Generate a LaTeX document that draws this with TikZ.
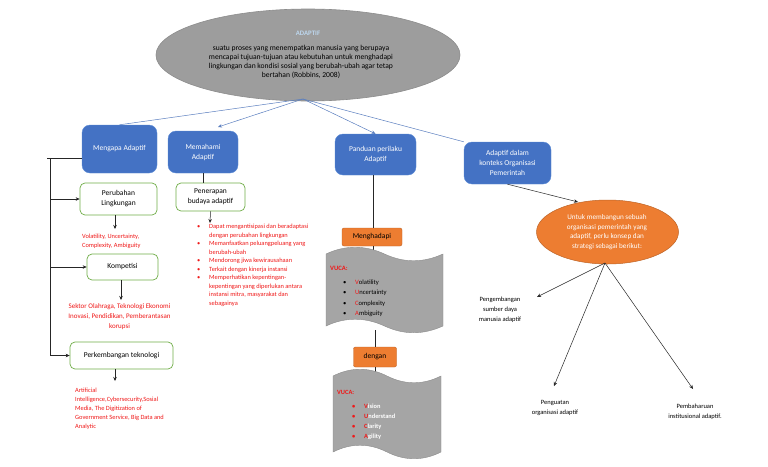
\documentclass[tikz,border=0pt]{standalone}
\usepackage{fontspec}
\setmainfont{Carlito}
\usetikzlibrary{arrows.meta,shapes.geometric}
\definecolor{bluebox}{HTML}{4472C4}
\definecolor{blueedge}{HTML}{5B8BD6}
\definecolor{greenedge}{HTML}{70AD47}
\definecolor{orangebox}{HTML}{ED7D31}
\definecolor{graybox}{HTML}{A5A5A5}
\definecolor{grayedge}{HTML}{8C8C8C}
\definecolor{redtext}{HTML}{F01818}
\definecolor{bluelink}{HTML}{5B7FC0}
\definecolor{lightblue}{HTML}{BDD7EE}
\newcommand{\bul}{\makebox[12pt][l]{\textbullet}}
\newcommand{\ind}{\hspace*{12pt}}
\begin{document}
\begin{tikzpicture}[x=1pt,y=-1pt,
  bluenode/.style={draw=blueedge,fill=bluebox,rounded corners=8pt,text=white,align=center,font=\fontsize{7.5}{10}\selectfont,inner sep=1pt},
  greennode/.style={draw=greenedge,fill=white,rounded corners=5pt,align=center,font=\fontsize{7.5}{10}\selectfont,inner sep=1pt,line width=0.7pt},
  orangenode/.style={draw=orangebox!80!black,fill=orangebox,rounded corners=2pt,align=center,font=\fontsize{7.5}{9}\selectfont,inner sep=1pt},
  redlbl/.style={text=redtext,font=\fontsize{6.4}{9}\selectfont,inner sep=0pt},
  blklbl/.style={text=black,font=\fontsize{6.5}{10}\selectfont,inner sep=0pt,align=center},
  bluelinkline/.style={draw=bluelink,line width=0.5pt},
  arr/.style={-{Stealth[length=4pt,width=3.5pt]}},
  blkline/.style={draw=black!85,line width=0.5pt},
  wave/.style={fill=graybox,draw=graybox!85!black,line width=0.4pt}
]
\useasboundingbox[fill=white] (0,0) rectangle (768,466);

% top ellipse
\node[ellipse,fill=graybox!95!black,draw=grayedge,line width=0.6pt,minimum width=304pt,minimum height=92pt,inner sep=0pt] (top) at (308,55) {};
\node[text=lightblue,font=\fontsize{6.8}{8}\selectfont\bfseries,inner sep=0pt] (toptitle) at (308,33) {ADAPTIF};
\node[font=\fontsize{7.6}{9}\selectfont,align=center,inner sep=0pt] (toptext) at (301,62) {suatu proses yang menempatkan manusia yang berupaya\\mencapai tujuan-tujuan atau kebutuhan untuk menghadapi\\lingkungan dan kondisi sosial yang berubah-ubah agar tetap\\bertahan (Robbins, 2008)};

% blue boxes
\node[bluenode,minimum width=75pt,minimum height=48pt] (meng) at (119.5,149) {Mengapa Adaptif};
\node[bluenode,minimum width=70pt,minimum height=42pt] (mem) at (203,152) {Memahami\\Adaptif};
\node[bluenode,minimum width=81pt,minimum height=41pt] (pan) at (375.5,154.5) {Panduan perilaku\\Adaptif};
\node[bluenode,minimum width=87pt,minimum height=42pt] (kon) at (507.5,163) {Adaptif dalam\\konteks Organisasi\\Pemerintah};

% links from top ellipse
\coordinate (topbase) at (303,99);
\draw[bluelinkline] (topbase) -- (meng.north);
\draw[bluelinkline,arr] (topbase) -- (218,127) coordinate (memend);
\draw[bluelinkline,arr] (topbase) -- (pan.north);
\draw[bluelinkline] (topbase) -- (kon.north west);

% green boxes
\node[greennode,minimum width=77pt,minimum height=32pt] (perub) at (118.5,199) {Perubahan\\Lingkungan};
\node[greennode,minimum width=69pt,minimum height=28pt] (pener) at (210.5,197) {Penerapan\\budaya adaptif};
\node[greennode,minimum width=71pt,minimum height=26pt] (komp) at (122.5,267) {Kompetisi};
\node[greennode,minimum width=103pt,minimum height=27pt] (perk) at (121.5,355.5) {Perkembangan teknologi};

% bracket on the left
\coordinate (brk) at (50,158);
\draw[blkline] (meng.west |- brk) -- (47,158);
\draw[blkline] (brk) -- (50,356) coordinate (brkend);
\draw[blkline,arr] (brk |- perub.west) -- (perub.west);
\draw[blkline,arr] (brk |- komp.west) -- (komp.west);
\draw[blkline,arr] (brk |- perk.west) -- (perk.west);

% red texts on the left
\node[redlbl,anchor=north west,align=left] (vuca0) at (82,234) {Volatility, Uncertainty,\\Complexity, Ambiguity};
\draw[blkline,arr] (perub.south -| 115,0) -- (115,229) coordinate (a1);
\node[redlbl,anchor=north,align=center,font=\fontsize{7}{10}\selectfont] (sektor) at (119.5,303) {Sektor Olahraga, Teknologi Ekonomi\\Inovasi, Pendidikan, Pemberantasan\\korupsi};
\draw[blkline,arr] (komp.south -| 121,0) -- (121,300) coordinate (a2);
\node[redlbl,anchor=north west,align=left] (ai) at (75,388) {Artificial\\Intelligence,Cybersecurity,Sosial\\Media, The Digitization of\\Government Service, Big Data and\\Analytic};
\draw[blkline,arr] (perk.south -| 115,0) -- (115,381) coordinate (a3);

% Memahami branch
\draw[blkline] (mem.south) -- (mem.south |- pener.north);
\draw[blkline,arr] (pener.south) -- (210,223) coordinate (a4);
\node[redlbl,anchor=north west,align=left,font=\fontsize{6.4}{8.5}\selectfont] (bullets) at (197,224) {\bul Dapat mengantisipasi dan beradaptasi\\\ind dengan perubahan lingkungan\\\bul Memanfaatkan peluangpeluang yang\\\ind berubah-ubah\\\bul Mendorong jiwa kewirausahaan\\\bul Terkait dengan kinerja instansi\\\bul Memperhatikan kepentingan-\\\ind kepentingan yang diperlukan antara\\\ind instansi mitra, masyarakat dan\\\ind sebagainya};

% Panduan branch
\node[orangenode,minimum width=60pt,minimum height=18pt] (hadap) at (372,237) {Menghadapi};
\coordinate (w1top) at (373,262);
\coordinate (w1bot) at (375,330);
\coordinate (w2top) at (375,380);
\draw[blkline] (pan.south -| 373,0) -- (hadap.north -| 373,0);
\draw[blkline] (hadap.south -| 373,0) -- (w1top);

% wave 1
\path[wave] (326,254) .. controls (345,245) and (365,245) .. (384.5,254) .. controls (404,263) and (423,263) .. (443,254)
  -- (443,326) .. controls (423,335) and (404,335) .. (384.5,326) .. controls (365,317) and (345,317) .. (326,326) -- cycle;
\node[text=redtext,font=\fontsize{6.6}{8}\selectfont\bfseries,anchor=west,inner sep=0pt] (vuca1) at (330,268) {VUCA:};
\node[anchor=north west,align=left,inner sep=0pt,font=\fontsize{6.6}{10.2}\selectfont] (vlist1) at (343,280) {\bul\textcolor{redtext}{V}olatility\\\bul\textcolor{redtext}{U}ncertainty\\\bul\textcolor{redtext}{C}omplexity\\\bul\textcolor{redtext}{A}mbiguity};

\node[orangenode,minimum width=43pt,minimum height=20pt] (dengan) at (375,357) {dengan};
\draw[blkline] (w1bot) -- (dengan.north);
\draw[blkline] (dengan.south) -- (w2top);

% wave 2
\path[wave] (333,376) .. controls (351,367) and (369,367) .. (387,376) .. controls (405,385) and (423,385) .. (441,376)
  -- (441,452) .. controls (423,461) and (405,461) .. (387,452) .. controls (369,443) and (351,443) .. (333,452) -- cycle;
\node[text=redtext,font=\fontsize{6.4}{8}\selectfont\bfseries,anchor=west,inner sep=0pt] (vuca2) at (337,392) {VUCA:};
\node[anchor=north west,align=left,inner sep=0pt,text=white,font=\fontsize{6.4}{10}\selectfont\bfseries] (vlist2) at (352,404) {\textcolor{redtext}{\bul}\textcolor{redtext}{V}ision\\\textcolor{redtext}{\bul}\textcolor{redtext}{U}nderstand\\\textcolor{redtext}{\bul}\textcolor{redtext}{C}larity\\\textcolor{redtext}{\bul}\textcolor{redtext}{A}gility};

% right side
\node[ellipse,fill=orangebox,draw=orangebox!80!black,line width=0.5pt,minimum width=142pt,minimum height=64pt,inner sep=0pt] (orel) at (607.5,232) {};
\node[text=white,align=center,font=\fontsize{7.2}{9.5}\selectfont,inner sep=0pt] (oreltext) at (607,232) {Untuk membangun sebuah\\organisasi pemerintah yang\\adaptif, perlu konsep dan\\strategi sebagai berikut:};
\draw[blkline,arr] (kon.south) -- (578,202) coordinate (orelin);

\node[blklbl] (r1) at (500,310) {Pengembangan\\sumber daya\\manusia adaptif};
\node[blklbl] (r2) at (555,408) {Penguatan\\organisasi adaptif};
\node[blklbl] (r3) at (695,412) {Pembaharuan\\institusional adaptif.};
\coordinate (orout) at (605,263);
\draw[blkline,arr] (orout) -- (537,297) coordinate (e1);
\draw[blkline,arr] (orout) -- (554,386) coordinate (e2);
\draw[blkline,arr] (orout) -- (693,389) coordinate (e3);
\end{tikzpicture}
\end{document}
